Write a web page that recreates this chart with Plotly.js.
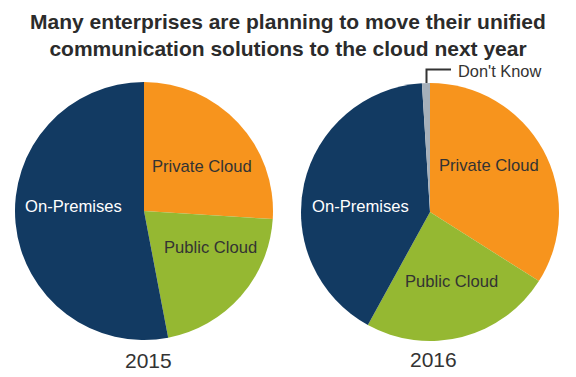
<!DOCTYPE html>
<html><head><meta charset="utf-8">
<script src="https://cdn.plot.ly/plotly-3.0.1.min.js"></script>
<style>html,body{margin:0;padding:0;background:#fff}#chart{width:576px;height:377px}</style>
</head><body><div id="chart"></div>
<script>
const labels2015 = ["Private Cloud", "Public Cloud", "On-Premises"];
const values2015 = [26, 21, 53];
const labels2016 = ["Private Cloud", "Public Cloud", "On-Premises", "Don't Know"];
const values2016 = [34, 24, 41, 1];
const years = ["2015", "2016"];
const titleText = "Many enterprises are planning to move their unified<br>communication solutions to the cloud next year";

const colorMap = {"Private Cloud": "#F7941D", "Public Cloud": "#95B832", "On-Premises": "#123A62", "Don't Know": "#A6B0BA"};
const W = 576, H = 377;
function dom(cx, cy, r) {
  return {x: [(cx - r) / W, (cx + r) / W], y: [(H - cy - r) / H, (H - cy + r) / H]};
}
function pie(labels, values, d) {
  return {type: "pie", labels: labels, values: values, sort: false, direction: "clockwise", rotation: 0,
    marker: {colors: labels.map(l => colorMap[l]), line: {width: 0}},
    textinfo: "none", hoverinfo: "label+value", domain: d, showlegend: false};
}
const data = [pie(labels2015, values2015, dom(144, 211, 129)), pie(labels2016, values2016, dom(430, 212, 129))];

function ann(text, x, y, color, size, anchor) {
  return {text: text, x: x / W, y: 1 - y / H, xref: "paper", yref: "paper", showarrow: false,
    xanchor: anchor || "center", yanchor: "middle", font: {family: "Liberation Sans, Arial, sans-serif", size: size || 16.6, color: color}};
}
const dark = "#333333";
const annotations = [
  ann(labels2015[0], 202, 166, dark),
  ann(labels2015[1], 210, 247, dark),
  ann(labels2015[2], 73, 206, "#ffffff"),
  ann(labels2016[0], 489, 165, dark),
  ann(labels2016[1], 451, 281, dark),
  ann(labels2016[2], 360, 206, "#ffffff"),
  ann(labels2016[3], 456, 71, dark, 16.4, "left"),
  ann(years[0], 148, 360, dark, 21),
  ann(years[1], 433, 359, dark, 21)
];
const shapes = [{type: "path", xref: "paper", yref: "paper",
  path: `M ${451/W} ${1-69.5/H} L ${426.5/W} ${1-69.5/H} L ${426.5/W} ${1-83/H}`,
  line: {color: "#333333", width: 2}}];

const layout = {width: W, height: H, margin: {l: 0, r: 0, t: 0, b: 0},
  paper_bgcolor: "#ffffff",
  title: {text: titleText, x: 0.5, xanchor: "center", y: 1 - 29 / H, yanchor: "middle",
    font: {family: "Liberation Sans, Arial, sans-serif", size: 21, color: "#2b2b2b", weight: "bold"}},
  annotations: annotations, shapes: shapes};
Plotly.newPlot("chart", data, layout, {displayModeBar: false, staticPlot: true});
</script></body></html>
